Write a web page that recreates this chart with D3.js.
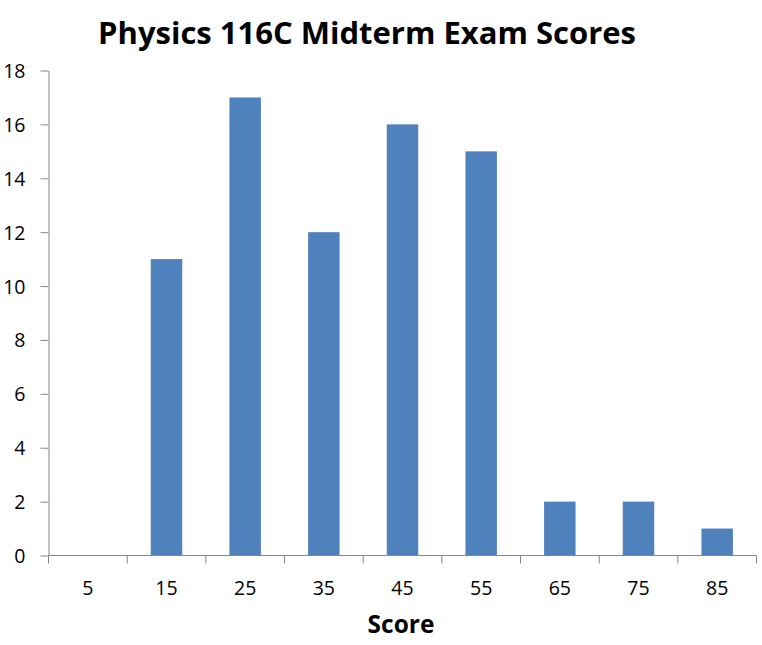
<!DOCTYPE html>
<html>
<head>
<meta charset="utf-8">
<script src="https://cdn.jsdelivr.net/npm/d3@7"></script>
<style>
  body { margin: 0; background: #fff; }
  text { font-family: "Open Sans", sans-serif; fill: #000; }
</style>
</head>
<body>
<script>
const scores = ['5', '15', '25', '35', '45', '55', '65', '75', '85'];
const counts = [0, 11, 17, 12, 16, 15, 2, 2, 1];
const yTicks = [0, 2, 4, 6, 8, 10, 12, 14, 16, 18];

const svgWidth = 762,
  svgHeight = 645;
const svg = d3.select('body').append('svg')
  .attr('width', svgWidth)
  .attr('height', svgHeight);

const plotLeft = 48.5, plotRight = 756.5, plotTop = 70.5, plotBottom = 555.5;

const xScale = d3.scaleBand()
  .domain(scores)
  .range([plotLeft, plotRight])
  .paddingInner(0.6)
  .paddingOuter(0.3);

const yScale = d3.scaleLinear()
  .domain([0, 18])
  .range([plotBottom, plotTop]);

// bars
svg.selectAll('rect')
  .data(counts)
  .enter()
  .append('rect')
  .attr('x', (d, i) => xScale(scores[i]))
  .attr('y', (d) => yScale(d))
  .attr('width', xScale.bandwidth())
  .attr('height', (d) => plotBottom - yScale(d))
  .attr('fill', '#4f81bd');

// y axis
const yAxis = svg.append('g')
  .attr('transform', `translate(${plotLeft},0)`)
  .call(d3.axisLeft(yScale).tickValues(yTicks).tickSize(8).tickSizeOuter(0).tickPadding(15));
yAxis.select('.domain').attr('stroke', '#868686');
yAxis.selectAll('.tick line').attr('stroke', '#868686');
yAxis.selectAll('.tick text')
  .attr('font-size', 19.5)
  .attr('font-family', '"Open Sans", sans-serif')
  .attr('dy', '0.36em');

// x axis: ticks sit on band boundaries
const bounds = d3.range(scores.length + 1).map((i) => plotLeft + i * (plotRight - plotLeft) / scores.length);
const xAxis = svg.append('g');
xAxis.append('line')
  .attr('x1', plotLeft).attr('x2', plotRight)
  .attr('y1', plotBottom).attr('y2', plotBottom)
  .attr('stroke', '#868686');
xAxis.selectAll('.btick')
  .data(bounds)
  .enter()
  .append('line')
  .attr('x1', (d) => d).attr('x2', (d) => d)
  .attr('y1', plotBottom).attr('y2', plotBottom + 8)
  .attr('stroke', '#868686');
xAxis.selectAll('.xlab')
  .data(scores)
  .enter()
  .append('text')
  .attr('x', (d) => xScale(d) + xScale.bandwidth() / 2)
  .attr('y', 595)
  .attr('text-anchor', 'middle')
  .attr('font-size', 19.5)
  .text((d) => d);

// title and axis label
svg.append('text')
  .attr('x', 367)
  .attr('y', 44)
  .attr('text-anchor', 'middle')
  .attr('font-size', 31)
  .attr('font-weight', 'bold')
  .text('Physics 116C Midterm Exam Scores');

svg.append('text')
  .attr('x', 401)
  .attr('y', 633)
  .attr('text-anchor', 'middle')
  .attr('font-size', 24.5)
  .attr('font-weight', 'bold')
  .text('Score');
</script>
</body>
</html>
